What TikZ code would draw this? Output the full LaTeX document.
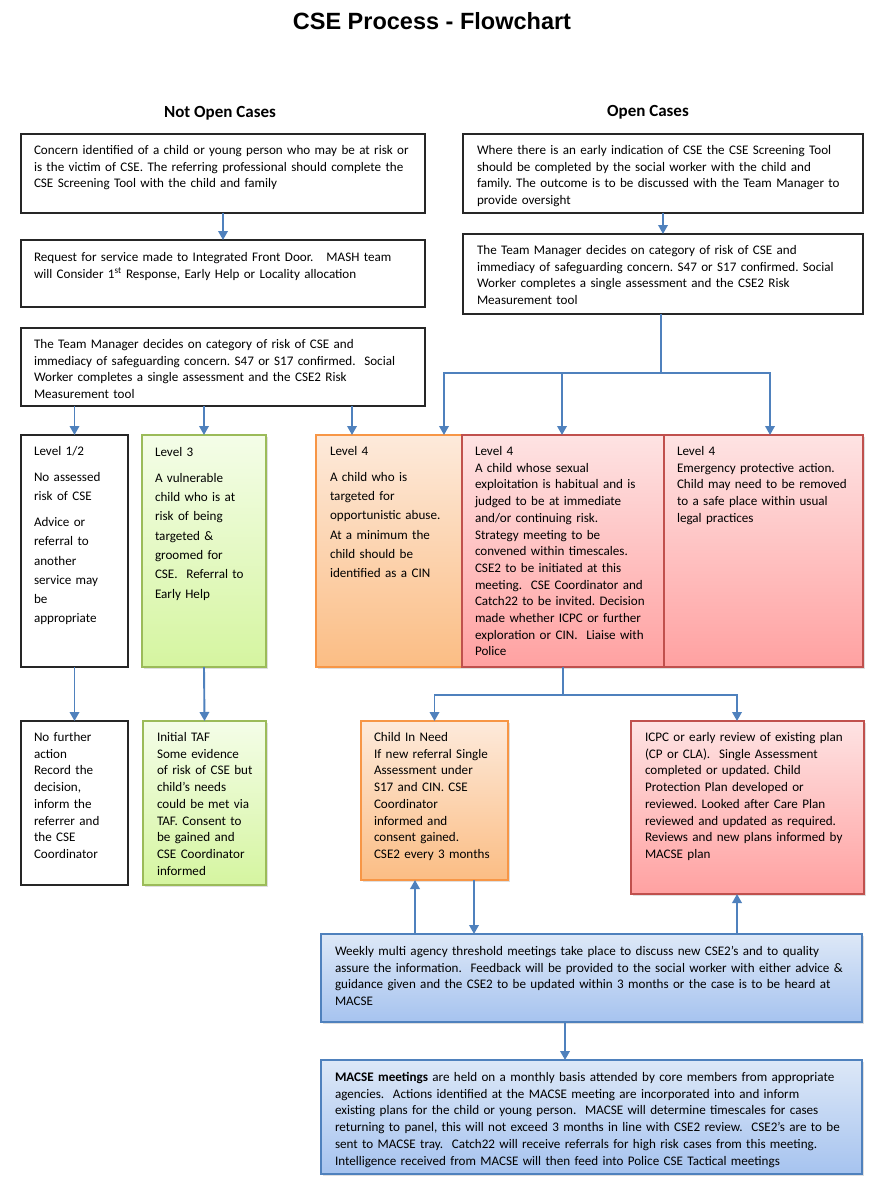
\documentclass[tikz,border=0pt]{standalone}
\usepackage{fontspec}
\setmainfont{Carlito}
\newfontfamily\titlefont{Liberation Sans}
\usetikzlibrary{arrows.meta,shadows}
\frenchspacing
\definecolor{arrowblue}{HTML}{4F81BD}
\definecolor{grnT}{HTML}{F4FDE8}
\definecolor{grnB}{HTML}{D5F5A0}
\definecolor{grnD}{HTML}{9BBB59}
\definecolor{orT}{HTML}{FDEADB}
\definecolor{orB}{HTML}{FBBD84}
\definecolor{orD}{HTML}{F79646}
\definecolor{rdT}{HTML}{FEE3E3}
\definecolor{rdB}{HTML}{FFA1A1}
\definecolor{rdD}{HTML}{C0504D}
\definecolor{blT}{HTML}{DDE8F7}
\definecolor{blB}{HTML}{A6C3EF}
\definecolor{blD}{HTML}{4F81BD}
\begin{document}
\frenchspacing
\begin{tikzpicture}[x=1pt,y=-1pt,
  box/.style={draw=black!85, line width=1.3pt, anchor=north west, inner sep=0pt, outer sep=0pt},
  shad/.style={drop shadow={opacity=0.25, shadow xshift=1.5pt, shadow yshift=-1.5pt}},
  greenbox/.style={box, shad, draw=grnD, top color=grnT, bottom color=grnB},
  orangebox/.style={box, shad, draw=orD, top color=orT, bottom color=orB},
  redbox/.style={box, shad, draw=rdD, top color=rdT, bottom color=rdB},
  bluebox/.style={box, shad, draw=blD, top color=blT, bottom color=blB},
  txt/.style={anchor=base west, inner sep=0pt, outer sep=0pt, align=left, text width=540pt,
    font=\fontsize{13.1}{16.7}\selectfont\frenchspacing},
  txtwide/.style={txt, font=\fontsize{13.1}{19.3}\selectfont\frenchspacing},
  ln/.style={draw=arrowblue, line width=1.9pt},
  arr/.style={ln, -{Triangle[width=9.5pt,length=9pt]}}
]
\useasboundingbox[fill=white] (0,0) rectangle (878,1177);

% titles
\node (title) at (432,21) {\titlefont\bfseries\fontsize{23.5}{28}\selectfont CSE Process - Flowchart};
\node (hno) at (220,113) {\bfseries\fontsize{17}{20}\selectfont Not Open Cases};
\node (hop) at (648,112) {\bfseries\fontsize{17}{20}\selectfont Open Cases};

% boxes
\node[box, minimum width=404pt, minimum height=79pt] (A) at (21,134) {};
\node[box, minimum width=404pt, minimum height=67pt] (B) at (21,240) {};
\node[box, minimum width=404pt, minimum height=78pt] (C) at (21,328) {};
\node[box, minimum width=400pt, minimum height=79pt] (D) at (463,134) {};
\node[box, minimum width=400pt, minimum height=80pt] (E) at (463,234) {};
\node[box, minimum width=107pt, minimum height=232pt] (L12) at (21,435) {};
\node[greenbox, minimum width=124pt, minimum height=232pt] (L3) at (142,435) {};
\node[orangebox, minimum width=146pt, minimum height=232pt] (L4a) at (316,435) {};
\node[redbox, minimum width=202pt, minimum height=232pt] (L4b) at (462,435) {};
\node[redbox, minimum width=199pt, minimum height=232pt] (L4c) at (664,435) {};
\node[box, minimum width=107pt, minimum height=164pt] (NFA) at (21,721) {};
\node[greenbox, minimum width=123pt, minimum height=164pt] (TAF) at (143,721) {};
\node[orangebox, minimum width=147pt, minimum height=159pt] (CIN) at (361,721) {};
\node[redbox, minimum width=233pt, minimum height=173pt] (ICPC) at (631,721) {};
\node[bluebox, minimum width=541pt, minimum height=88pt] (WK) at (321,934) {};
\node[bluebox, minimum width=541pt, minimum height=114pt] (MAC) at (321,1060) {};

% texts
\node[txt] (tA) at (34,154.5) {Concern identified of a child or young person who may be at risk or\\is the victim of CSE. The referring professional should complete the\\CSE Screening Tool with the child and family};
\node[txt] (tB) at (34,261.5) {Request for service made to Integrated Front Door.\ \ \ MASH team\\will Consider 1\textsuperscript{st} Response, Early Help or Locality allocation};
\node[txt] (tC) at (34,348.5) {The Team Manager decides on category of risk of CSE and\\immediacy of safeguarding concern. S47 or S17 confirmed.\ \ Social\\Worker completes a single assessment and the CSE2 Risk\\Measurement tool};
\node[txt] (tD) at (477,154.5) {Where there is an early indication of CSE the CSE Screening Tool\\should be completed by the social worker with the child and\\family. The outcome is to be discussed with the Team Manager to\\provide oversight};
\node[txt] (tE) at (477,254.5) {The Team Manager decides on category of risk of CSE and\\immediacy of safeguarding concern. S47 or S17 confirmed. Social\\Worker completes a single assessment and the CSE2 Risk\\Measurement tool};
\node[txtwide] (tL12) at (34,455.5) {Level 1/2\\[6.5pt]No assessed\\risk of CSE\\[6.5pt]Advice or\\referral to\\another\\service may\\be\\appropriate};
\node[txtwide] (tL3) at (155,456.5) {Level 3\\[6.5pt]A vulnerable\\child who is at\\risk of being\\targeted \&\\groomed for\\CSE.\ \ Referral to\\Early Help};
\node[txtwide] (tL4a) at (330,455.5) {Level 4\\[6.5pt]A child who is\\targeted for\\opportunistic abuse.\\At a minimum the\\child should be\\identified as a CIN};
\node[txt] (tL4b) at (475,455.5) {Level 4\\A child whose sexual\\exploitation is habitual and is\\judged to be at immediate\\and/or continuing risk.\\Strategy meeting to be\\convened within timescales.\\CSE2 to be initiated at this\\meeting.\ \ CSE Coordinator and\\Catch22 to be invited. Decision\\made whether ICPC or further\\exploration or CIN.\ \ Liaise with\\Police};
\node[txt] (tL4c) at (677,455.5) {Level 4\\Emergency protective action.\\Child may need to be removed\\to a safe place within usual\\legal practices};
\node[txt] (tNFA) at (34,741.5) {No further\\action\\Record the\\decision,\\inform the\\referrer and\\the CSE\\Coordinator};
\node[txt] (tTAF) at (157,741.5) {Initial TAF\\Some evidence\\of risk of CSE but\\child’s needs\\could be met via\\TAF. Consent to\\be gained and\\CSE Coordinator\\informed};
\node[txt] (tCIN) at (374,741.5) {Child In Need\\If new referral Single\\Assessment under\\S17 and CIN. CSE\\Coordinator\\informed and\\consent gained.\\CSE2 every 3 months};
\node[txt] (tICPC) at (645,741.5) {ICPC or early review of existing plan\\(CP or CLA).\ \ Single Assessment\\completed or updated. Child\\Protection Plan developed or\\reviewed. Looked after Care Plan\\reviewed and updated as required.\\Reviews and new plans informed by\\MACSE plan};
\node[txt] (tWK) at (335,955.5) {Weekly multi agency threshold meetings take place to discuss new CSE2’s and to quality\\assure the information.\ \ Feedback will be provided to the social worker with either advice \&\\guidance given and the CSE2 to be updated within 3 months or the case is to be heard at\\MACSE};
\node[txt] (tMAC) at (335,1081.5) {\textbf{MACSE meetings} are held on a monthly basis attended by core members from appropriate\\agencies.\ \ Actions identified at the MACSE meeting are incorporated into and inform\\existing plans for the child or young person.\ \ MACSE will determine timescales for cases\\returning to panel, this will not exceed 3 months in line with CSE2 review.\ \ CSE2’s are to be\\sent to MACSE tray.\ \ Catch22 will receive referrals for high risk cases from this meeting.\\Intelligence received from MACSE will then feed into Police CSE Tactical meetings};

% connectors: not open cases
\draw[arr] (A.south) -- (B.north);
\draw[arr] (C.south -| L12.north) -- (L12.north);
\draw[arr] (C.south -| L3.north) -- (L3.north);
\draw[arr] ([xshift=-37pt]L4a.north |- C.south) -- ([xshift=-37pt]L4a.north);
\draw[arr] (L12.south) -- (NFA.north);
\draw[arr] (L3.south) -- (TAF.north);

% connectors: open cases
\draw[arr] (D.south) -- (E.north);
\draw[ln] ([xshift=-2pt]E.south) -- ++(0,59) coordinate (fork);
\draw[arr] (fork) -| ([xshift=55pt]L4a.north);
\draw[arr] (fork) -| ([xshift=-1pt]L4b.north);
\draw[arr] (fork) -| ([xshift=6.5pt]L4c.north);
\draw[ln] (L4b.south) -- ++(0,28) coordinate (fork2);
\draw[arr] (fork2) -| (CIN.north);
\draw[arr] (fork2) -| ([xshift=-10.5pt]ICPC.north);

% bottom connectors
\draw[arr] ([xshift=-19.5pt]CIN.south |- WK.north) -- ([xshift=-19.5pt]CIN.south);
\draw[arr] ([xshift=39.5pt]CIN.south) -- ([xshift=39.5pt]CIN.south |- WK.north);
\draw[arr] ([xshift=-10.5pt]ICPC.south |- WK.north) -- ([xshift=-10.5pt]ICPC.south);
\draw[arr] ([xshift=-26.5pt]WK.south) -- ([xshift=-26.5pt]MAC.north);
\end{tikzpicture}
\end{document}
